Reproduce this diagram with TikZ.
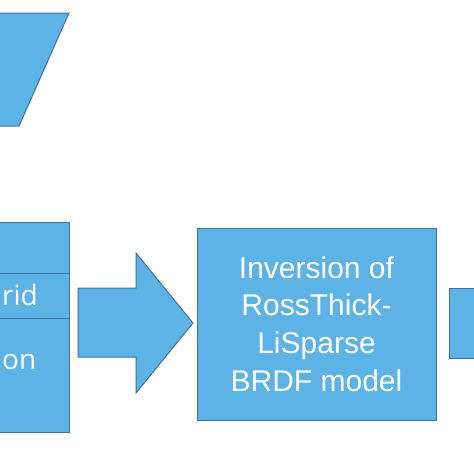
\documentclass[tikz,border=0pt]{standalone}
\usepackage{fontspec}
\setmainfont{Liberation Sans}
\newfontfamily\sidefont{Open Sans}
\definecolor{boxfill}{RGB}{93,178,230}
\definecolor{boxline}{RGB}{65,113,156}
\tikzset{
  blockbox/.style={draw=boxline, fill=boxfill, line width=1pt},
  boxtext/.style={text=white, align=center, font=\fontsize{30}{37.7}\selectfont},
  sidetext/.style={text=white, font=\sidefont\fontsize{28}{34}\selectfont, anchor=base west, inner sep=0pt}
}
\begin{document}
\begin{tikzpicture}[x=1pt, y=-1pt]
  \clip (0,0) rectangle (474,474);
  \fill[white] (0,0) rectangle (474,474);
  % Parallelogram
  \draw[blockbox] (-40,13) -- (69,13) -- (19,126) -- (-40,126) -- cycle;
  % Left-hand stack
  \draw[blockbox] (-40,222) rectangle (69,273);
  \draw[blockbox] (-40,273) rectangle (69,318);
  \draw[blockbox] (-40,318) rectangle (69,432);
  \node[sidetext] (grid) at (2,305) {rid};
  \node[sidetext] (tion) at (2,369) {on};
  % Block arrow
  \draw[blockbox] (78,288) -- (136,288) -- (136,253) -- (193,323) -- (136,393) -- (136,357) -- (78,357) -- cycle;
  % Inversion box
  \node[blockbox, boxtext, minimum width=239, minimum height=192] (inv) at (316.5,324)
    {Inversion of\\RossThick-\\LiSparse\\BRDF model};
  % Right-hand box
  \draw[blockbox] (449,288) rectangle (520,358);
\end{tikzpicture}
\end{document}
